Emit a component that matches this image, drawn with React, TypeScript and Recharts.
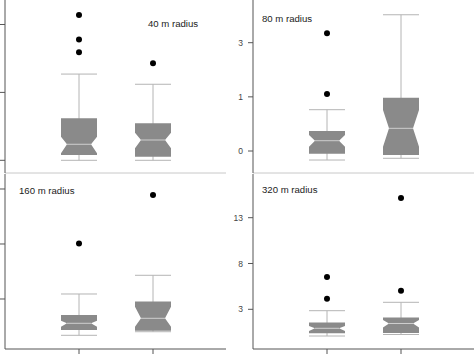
import React from "react";
import { ComposedChart, Bar, Line, XAxis, YAxis } from "recharts";

interface BoxStats {
    low: number;
    q1: number;
    notchLo: number;
    median: number;
    notchHi: number;
    q3: number;
    high: number;
}

const groups = ["A", "B"];

// 40 m radius - the value labels of this axis are cut off in the source figure
const r40Boxes: BoxStats[] = [
    { low: 0, q1: 0.078, notchLo: 0.103, median: 0.236, notchHi: 0.348, q3: 0.619, high: 1.27 },
    { low: 0, q1: 0.053, notchLo: 0.177, median: 0.299, notchHi: 0.406, q3: 0.545, high: 1.12 },
];
const r40Outliers = [[2.14, 1.78, 1.59], [1.43]];
const r40Ticks = [0, 1, 2];

// 80 m radius - plotted on a log2(x + 1) axis
const r80Boxes: BoxStats[] = [
    { low: -0.109, q1: -0.034, notchLo: 0.057, median: 0.141, notchHi: 0.227, q3: 0.292, high: 0.697 },
    { low: -0.089, q1: -0.05, notchLo: 0.057, median: 0.337, notchHi: 0.69, q3: 0.978, high: 4.72 },
];
const r80Outliers = [[3.51, 1.075], []];
const r80TickLabels = [0, 1, 3];

// 160 m radius - value labels cut off as well
const r160Boxes: BoxStats[] = [
    { low: 0.34, q1: 0.436, notchLo: 0.496, median: 0.558, notchHi: 0.605, q3: 0.709, high: 1.091 },
    { low: 0.405, q1: 0.424, notchLo: 0.496, median: 0.649, notchHi: 0.86, q3: 0.955, high: 1.431 },
];
const r160Outliers = [[2.01], [2.89]];
const r160Ticks = [1, 2, 3];

// 320 m radius
const r320Boxes: BoxStats[] = [
    { low: 0.085, q1: 0.38, notchLo: 0.631, median: 0.926, notchHi: 1.177, q3: 1.559, high: 2.847 },
    { low: 0.249, q1: 0.413, notchLo: 1.013, median: 1.45, notchHi: 1.83, q3: 2.105, high: 3.764 },
];
const r320Outliers = [[6.53, 4.16], [15.15, 5.03]];
const r320Ticks = [3, 8, 13];

const BOX_FILL = "#8a8a8a";
const WHISKER = "#b4b4b4";
const MEDIAN = "#cfcfcf";
const AXIS = "#555";
const BORDER = "#c8c8c8";
const FONT = "'Liberation Sans', Arial, sans-serif";

const same = (v: number) => v;
const log2p1 = (v: number) => Math.log2(v + 1);

// keeps the tick marks but draws no label
const NoLabel = () => <g />;

function buildRows(boxes: BoxStats[], outliers: number[][], f: (v: number) => number) {
    return boxes.map((b, i) => {
        const o = outliers[i] || [];
        return {
            name: groups[i],
            range: [f(b.low), f(b.high)],
            q1: f(b.q1),
            notchLo: f(b.notchLo),
            median: f(b.median),
            notchHi: f(b.notchHi),
            q3: f(b.q3),
            o0: o[0] != null ? f(o[0]) : null,
            o1: o[1] != null ? f(o[1]) : null,
            o2: o[2] != null ? f(o[2]) : null,
        };
    });
}

// draws whisker, caps, notched box and median inside the range bar (low..high)
const NotchedBox = (props: any) => {
    const { x, y, width, height, payload } = props;
    if (!payload || width == null) return null;
    const [lo, hi] = payload.range;
    const top = Math.min(y, y + height);
    const bottom = Math.max(y, y + height);
    const k = (bottom - top) / (hi - lo);
    const py = (v: number) => top + (hi - v) * k;
    const l = x;
    const r = x + width;
    const cx = x + width / 2;
    const inset = width / 6;
    const pts = [
        [l, py(payload.q3)],
        [r, py(payload.q3)],
        [r, py(payload.notchHi)],
        [r - inset, py(payload.median)],
        [r, py(payload.notchLo)],
        [r, py(payload.q1)],
        [l, py(payload.q1)],
        [l, py(payload.notchLo)],
        [l + inset, py(payload.median)],
        [l, py(payload.notchHi)],
    ]
        .map((p) => p.join(","))
        .join(" ");
    return (
        <g>
            <line x1={cx} x2={cx} y1={top} y2={bottom} stroke={WHISKER} />
            <line x1={l} x2={r} y1={top} y2={top} stroke={WHISKER} />
            <line x1={l} x2={r} y1={bottom} y2={bottom} stroke={WHISKER} />
            <polygon points={pts} fill={BOX_FILL} />
            <line x1={l + inset} x2={r - inset} y1={py(payload.median)} y2={py(payload.median)} stroke={MEDIAN} />
        </g>
    );
};

interface PanelProps {
    rows: any[];
    left: number;
    top: number;
    width: number;
    height: number;
    domain: [number, number];
    ticks: number[];
    yWidth: number;
    marginRight: number;
    showLabels: boolean;
    bottomAxis: boolean;
    rightBorder: boolean;
    tickFormatter?: (v: number) => string;
}

const Panel: React.FC<PanelProps> = (p) => (
    <div style={{ position: "absolute", left: p.left, top: p.top }}>
        <ComposedChart
            width={p.width}
            height={p.height}
            data={p.rows}
            margin={{ top: 0, right: p.marginRight, bottom: 0, left: 0 }}
        >
            <XAxis
                dataKey="name"
                height={p.bottomAxis ? 6 : 1}
                padding={{ left: 37, right: 36 }}
                tick={NoLabel}
                tickSize={5}
                tickLine={p.bottomAxis ? { stroke: AXIS } : false}
                axisLine={{ stroke: p.bottomAxis ? AXIS : BORDER }}
            />
            <YAxis
                yAxisId="l"
                type="number"
                domain={p.domain}
                ticks={p.ticks}
                allowDataOverflow
                width={p.yWidth}
                tickSize={5}
                tickMargin={5}
                tickFormatter={p.tickFormatter}
                tick={p.showLabels ? { fill: "#444", fontSize: 8.5, fontFamily: FONT } : NoLabel}
                tickLine={{ stroke: AXIS }}
                axisLine={{ stroke: AXIS }}
            />
            {p.rightBorder && (
                <YAxis
                    yAxisId="r"
                    orientation="right"
                    type="number"
                    domain={p.domain}
                    allowDataOverflow
                    width={0}
                    tick={false}
                    tickLine={false}
                    axisLine={{ stroke: BORDER }}
                />
            )}
            <Bar yAxisId="l" dataKey="range" barSize={36} shape={NotchedBox} isAnimationActive={false} />
            {["o0", "o1", "o2"].map((k) => (
                <Line
                    key={k}
                    yAxisId="l"
                    dataKey={k}
                    stroke="none"
                    dot={{ r: 3, fill: "#000", stroke: "none" }}
                    activeDot={false}
                    isAnimationActive={false}
                />
            ))}
        </ComposedChart>
    </div>
);

const Caption: React.FC<{ x: number; y: number; text: string }> = ({ x, y, text }) => (
    <div
        style={{
            position: "absolute",
            left: x,
            top: y - 6,
            fontFamily: FONT,
            fontSize: 9.6,
            lineHeight: "12px",
            color: "#222",
            whiteSpace: "nowrap",
        }}
    >
        {text}
    </div>
);

const App: React.FC = () => {
    const rows40 = buildRows(r40Boxes, r40Outliers, same);
    const rows80 = buildRows(r80Boxes, r80Outliers, log2p1);
    const rows160 = buildRows(r160Boxes, r160Outliers, same);
    const rows320 = buildRows(r320Boxes, r320Outliers, same);

    return (
        <div
            style={{
                position: "absolute",
                left: 0,
                top: 0,
                width: 474,
                height: 355,
                overflow: "hidden",
                background: "#fff",
            }}
        >
            <Panel
                rows={rows40}
                left={0}
                top={0}
                width={237}
                height={174}
                domain={[-0.187, 2.3608]}
                ticks={r40Ticks}
                yWidth={5}
                marginRight={11}
                showLabels={false}
                bottomAxis={false}
                rightBorder
            />
            <Panel
                rows={rows80}
                left={227}
                top={0}
                width={247}
                height={174}
                domain={[-0.406, 2.7885]}
                ticks={r80TickLabels.map(log2p1)}
                tickFormatter={(v) => String(Math.round(Math.pow(2, v) - 1))}
                yWidth={26}
                marginRight={0}
                showLabels
                bottomAxis={false}
                rightBorder={false}
            />
            <Panel
                rows={rows160}
                left={0}
                top={174}
                width={237}
                height={181}
                domain={[0.0909, 3.2727]}
                ticks={r160Ticks}
                yWidth={5}
                marginRight={11}
                showLabels={false}
                bottomAxis
                rightBorder
            />
            <Panel
                rows={rows320}
                left={227}
                top={174}
                width={247}
                height={181}
                domain={[-1.334, 17.77]}
                ticks={r320Ticks}
                yWidth={26}
                marginRight={0}
                showLabels
                bottomAxis
                rightBorder={false}
            />
            <Caption x={148} y={24} text="40 m radius" />
            <Caption x={262} y={19} text="80 m radius" />
            <Caption x={19} y={191} text="160 m radius" />
            <Caption x={262} y={190} text="320 m radius" />
        </div>
    );
};

export default App;
